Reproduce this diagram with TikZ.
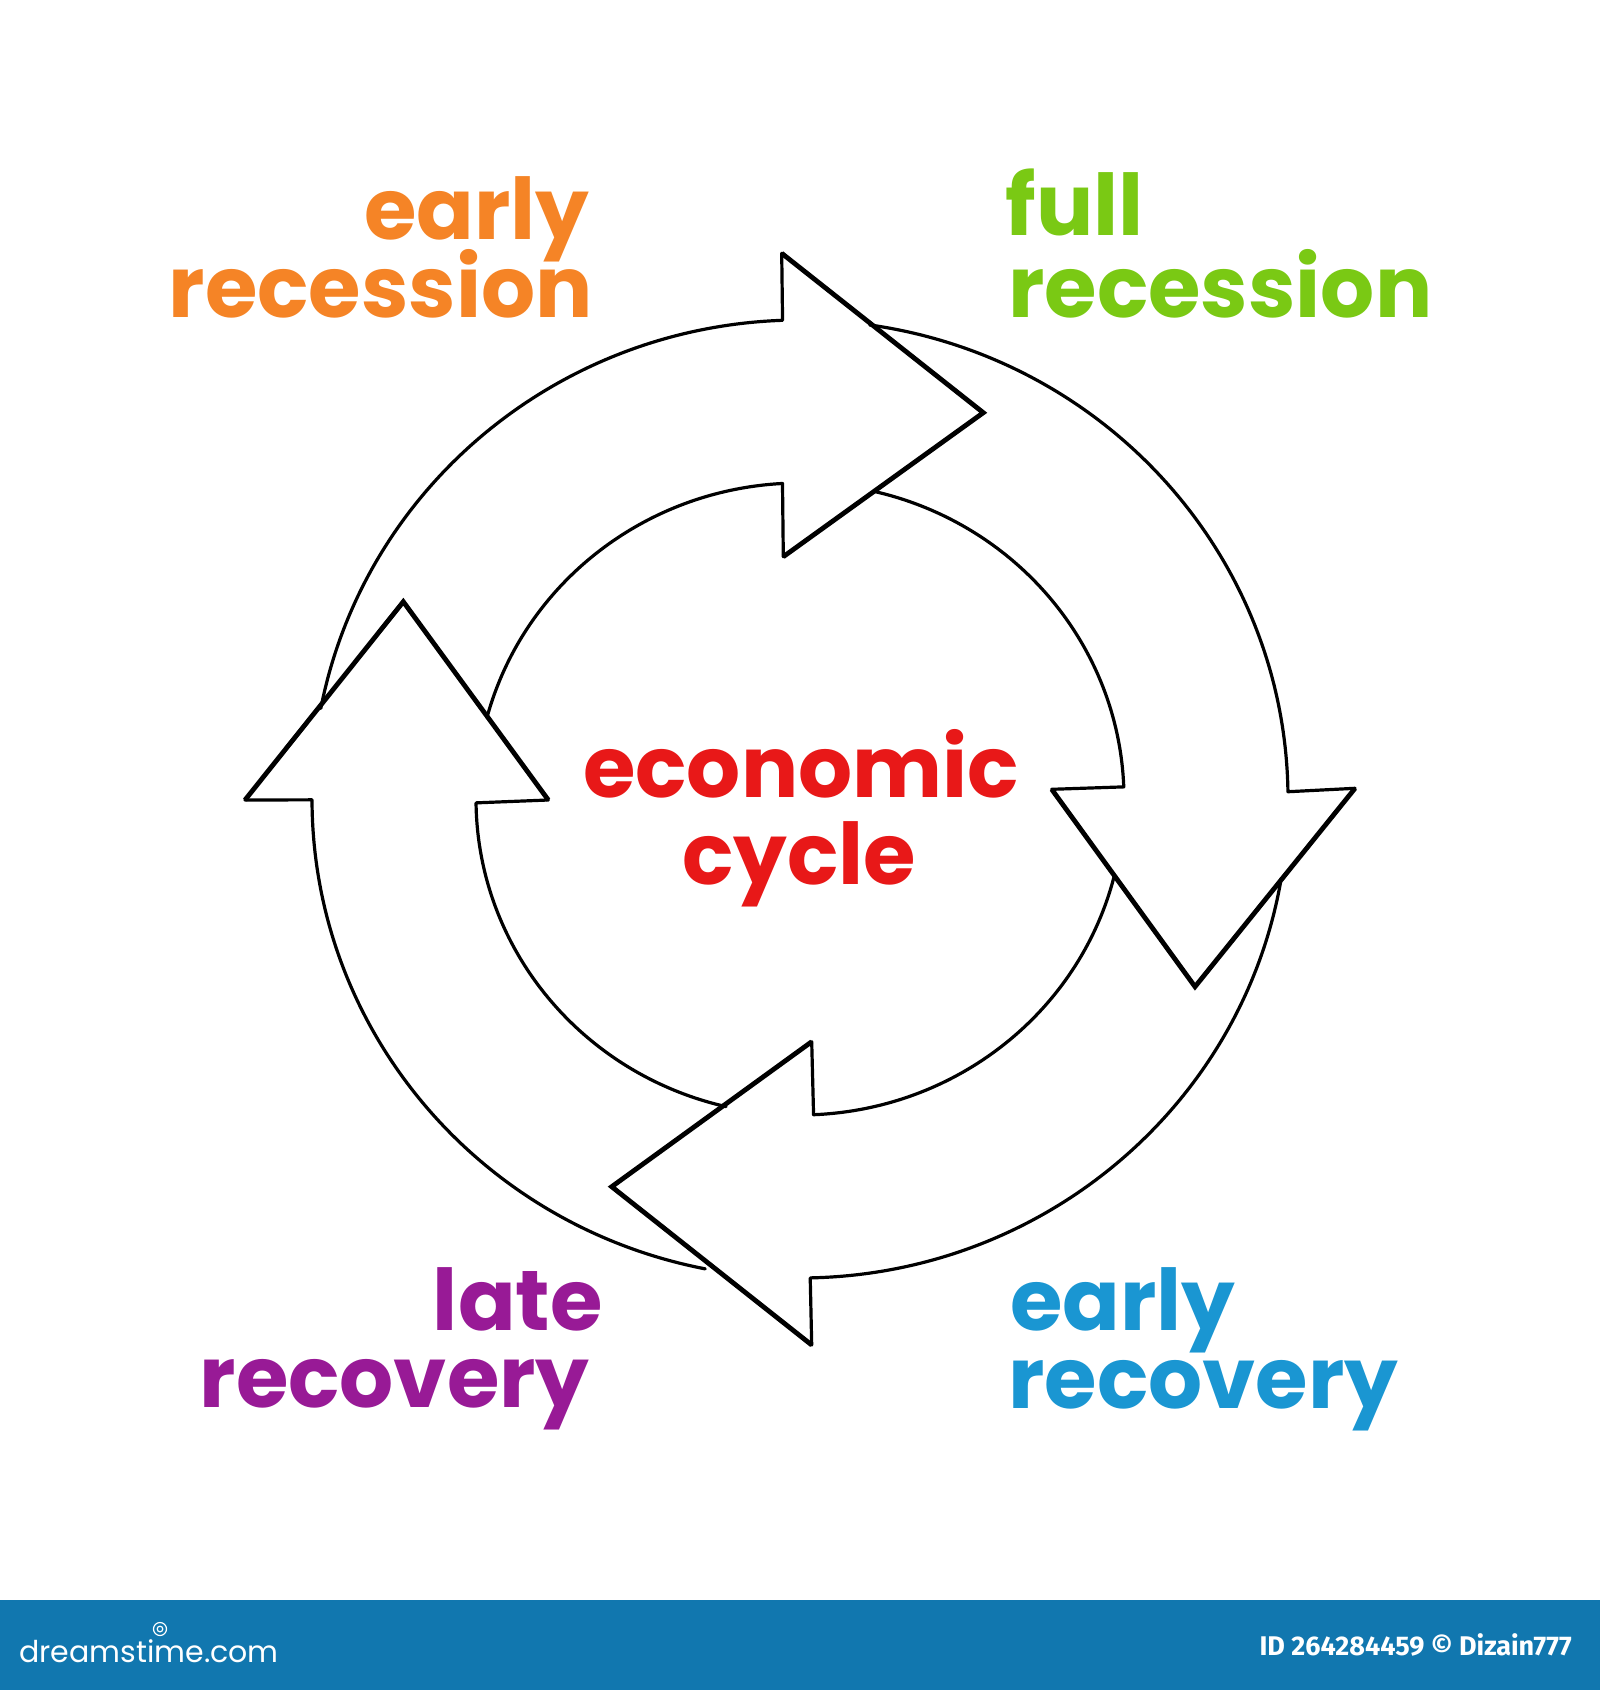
\documentclass[tikz,border=0pt]{standalone}
\usepackage{fontspec}
\setmainfont{Poppins}
\newfontfamily\hand{Poppins}
\newfontfamily\idfont{Fira Sans}
\usetikzlibrary{calc}
\definecolor{cOrange}{RGB}{245,132,38}
\definecolor{cGreen}{RGB}{122,201,20}
\definecolor{cPurple}{RGB}{152,26,150}
\definecolor{cBlue}{RGB}{26,150,210}
\definecolor{cRed}{RGB}{232,24,24}
\definecolor{cBar}{RGB}{17,119,175}
\tikzset{
  shaft/.style={line width=1.6pt, line join=round, line cap=round},
  headline/.style={line width=2.4pt, line join=miter},
  lbl/.style={font=\hand\bfseries\fontsize{42.5}{42.5}\selectfont, inner sep=0pt},
}
\begin{document}
\begin{tikzpicture}[x=0.5pt,y=0.5pt]
\useasboundingbox (0,0) rectangle (1600,-1690);
\fill[white] (0,0) rectangle (1600,-1690);
\coordinate (C) at (800,-799);
% top arrow (head pointing right)
\coordinate (t1) at (781.7,-253.3);
\coordinate (ttip) at (983.3,-412.7);
\coordinate (t2) at (783.3,-556.7);
\draw[shaft] ($(C)+(169.1:488 and 479)$) arc[start angle=169.1, end angle=92.05, x radius=488, y radius=479]
  -- (t1) -- (ttip) -- (t2) -- ($(C)+(93.1:324 and 316)$)
  arc[start angle=93.1, end angle=165.1, x radius=324, y radius=316];
\draw[headline] (t1) -- (ttip) -- (t2);
% right arrow (head pointing down)
\coordinate (r1) at (1355,-788.3);
\coordinate (rtip) at (1195,-986.7);
\coordinate (r2) at (1051.7,-789.3);
\draw[shaft] ($(C)+(81.8:488 and 479)$) arc[start angle=81.8, end angle=0.87, x radius=488, y radius=479]
  -- (r1) -- (rtip) -- (r2) -- ($(C)+(2.2:324 and 316)$)
  arc[start angle=2.2, end angle=76.7, x radius=324, y radius=316];
\draw[headline] (r1) -- (rtip) -- (r2);
% bottom arrow (head pointing left)
\coordinate (b1) at (811.7,-1345);
\coordinate (btip) at (611.7,-1186.7);
\coordinate (b2) at (811.7,-1041.7);
\draw[shaft] ($(C)+(-9.5:488 and 479)$) arc[start angle=-9.5, end angle=-88.8, x radius=488, y radius=479]
  -- (b1) -- (btip) -- (b2) -- ($(C)+(-87.6:324 and 316)$)
  arc[start angle=-87.6, end angle=-14.3, x radius=324, y radius=316];
\draw[headline] (b1) -- (btip) -- (b2);
% left arrow (head pointing up)
\coordinate (l1) at (245,-800);
\coordinate (ltip) at (403.3,-601.7);
\coordinate (l2) at (548.3,-800);
\draw[shaft] ($(C)+(-101.2:488 and 479)$) arc[start angle=-101.2, end angle=-179.9, x radius=488, y radius=479]
  -- (l1) -- (ltip) -- (l2) -- ($(C)+(-179.3:324 and 316)$)
  arc[start angle=-179.3, end angle=-103.2, x radius=324, y radius=316];
\draw[headline] (l1) -- (ltip) -- (l2);
% labels
\node[lbl, text=cOrange, anchor=base east] (er1) at (590,-240) {early};
\node[lbl, text=cOrange, anchor=base east] (er2) at (593,-318) {recession};
\node[lbl, text=cGreen, anchor=base west] (fr1) at (1005,-236) {full};
\node[lbl, text=cGreen, anchor=base west] (fr2) at (1008,-318) {recession};
\node[lbl, text=cPurple, anchor=base east] (lr1) at (603,-1330) {late};
\node[lbl, text=cPurple, anchor=base east] (lr2) at (590,-1407) {recovery};
\node[lbl, text=cBlue, anchor=base west] (br1) at (1010,-1330) {early};
\node[lbl, text=cBlue, anchor=base west] (br2) at (1008,-1408) {recovery};
\node[lbl, text=cRed, anchor=base] (c1) at (801,-797) {economic};
\node[lbl, text=cRed, anchor=base] (c2) at (799,-884) {cycle};
% bottom bar
\fill[cBar] (0,-1600) rectangle (1600,-1690);
\node[text=white, anchor=base west, inner sep=0pt, font=\fontsize{15}{15}\selectfont] (logo) at (19,-1662) {dreamstime.com};
\draw[white, line width=0.6pt] (160,-1629) circle[radius=6.5];
\draw[white, line width=0.6pt] (160,-1629) circle[radius=2.8];
\node[text=white, anchor=base east, inner sep=0pt, font=\idfont\bfseries\fontsize{13.5}{13.5}\selectfont] (idtext) at (1572,-1655) {ID 264284459 © Dizain777};
\end{tikzpicture}
\end{document}
